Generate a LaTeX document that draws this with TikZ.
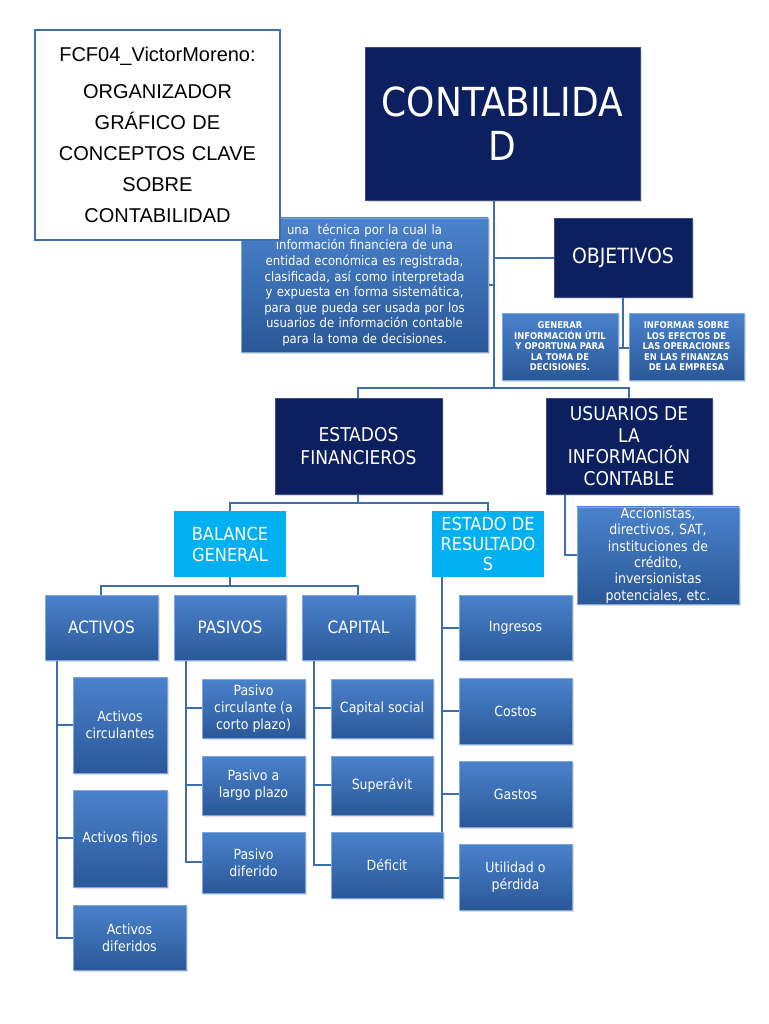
\documentclass[tikz,border=0pt]{standalone}
\usepackage{fontspec}
\setmainfont{DejaVu Sans Condensed}
\newfontfamily\arialfont{Liberation Sans}
\usetikzlibrary{positioning,shadows}
\definecolor{navy}{HTML}{0C1F5E}
\definecolor{midblue}{HTML}{3B6DB5}
\definecolor{topblue}{HTML}{4A82CC}
\definecolor{botblue}{HTML}{2A5898}
\definecolor{skyblue}{HTML}{00B0F0}
\definecolor{linkblue}{HTML}{3F6EAE}
\begin{document}
\begin{tikzpicture}[x=1pt,y=-1pt,
	navybox/.style={
		rectangle,
		fill=navy,
		draw=navy!80!white,
		text=white,
		align=center,
		inner sep=2pt,
		drop shadow={opacity=0.25,shadow xshift=2pt,shadow yshift=-2pt}},
	bluebox/.style={
		rectangle,
		top color=topblue,
		bottom color=botblue,
		draw=topblue!70!white,
		text=white,
		align=center,
		inner sep=1pt,
		drop shadow={opacity=0.25,shadow xshift=2pt,shadow yshift=-2pt}},
	skybox/.style={
		rectangle,
		fill=skyblue,
		text=white,
		align=center,
		inner sep=1pt},
	link/.style={draw=linkblue,line width=2.4pt}
	]
	\useasboundingbox[fill=white] (0,0) rectangle (768,1024);

	% connectors first, boxes on top
	\coordinate (t0) at (494,200);
	\coordinate (t1) at (494,388);
	\coordinate (ob1) at (623,297);
	\draw[link] (t0) -- (t1);
	\draw[link] (494,258) -- (554,258);
	\draw[link] (488,285) -- (494,285);
	\draw[link] (ob1) |- (618,348);
	\draw[link] (623,348) -- (629,348);
	\draw[link] (358,398) -- (358,388) -- (629,388) -- (629,398);
	\draw[link] (565,494) |- (577,555);
	\draw[link] (358,494) -- (358,503);
	\draw[link] (230,511) |- (488,503) -- (488,511);
	\draw[link] (230,577) -- (230,586);
	\draw[link] (101,595) |- (358,586) -- (358,595);
	% ramas de activos, pasivos, capital
	\draw[link] (57,660) |- (73,938);
	\foreach \y in {725,838} \draw[link] (57,\y) -- (73,\y);
	\draw[link] (186,660) |- (202,862);
	\foreach \y in {708,785} \draw[link] (186,\y) -- (202,\y);
	\draw[link] (314,660) |- (331,865);
	\foreach \y in {708,785} \draw[link] (314,\y) -- (331,\y);
	\draw[link] (442,577) |- (459,878);
	\foreach \y in {628,711,794} \draw[link] (442,\y) -- (459,\y);

	% cajas
	\node[navybox,minimum width=275pt,minimum height=153pt,font=\fontsize{40}{44}\selectfont] (conta) at (502.5,123.5) {CONTABILIDA\\D};
	\node[bluebox,minimum width=247pt,minimum height=134pt,text width=243pt,font=\fontsize{13}{15.6}\selectfont] (defi) at (364.5,285) {una \ técnica por la cual la\\información financiera de una\\entidad económica es registrada,\\clasificada, así como interpretada\\y expuesta en forma sistemática,\\para que pueda ser usada por los\\usuarios de información contable\\para la toma de decisiones.};
	\node[draw=linkblue,line width=2pt,fill=white,minimum width=245pt,minimum height=210pt,text width=235pt,align=center,font=\arialfont\fontsize{20}{31}\selectfont] (titulo) at (157.5,135) {FCF04\_VictorMoreno:\\[6pt] ORGANIZADOR\\GRÁFICO DE\\CONCEPTOS CLAVE\\SOBRE\\CONTABILIDAD};
	\node[navybox,minimum width=138pt,minimum height=79pt,font=\fontsize{21}{24}\selectfont] (objet) at (623,257.5) {OBJETIVOS};
	\node[bluebox,minimum width=116pt,minimum height=67pt,text width=114pt,font=\bfseries\fontsize{9.3}{10.5}\selectfont] (gener) at (560,346.5) {GENERAR\\INFORMACIÓN ÚTIL\\Y OPORTUNA PARA\\LA TOMA DE\\DECISIONES.};
	\node[bluebox,minimum width=115pt,minimum height=67pt,text width=113pt,font=\bfseries\fontsize{9.3}{10.5}\selectfont] (infor) at (686.5,346.5) {INFORMAR SOBRE\\LOS EFECTOS DE\\LAS OPERACIONES\\EN LAS FINANZAS\\DE LA EMPRESA};
	\node[navybox,minimum width=167pt,minimum height=96pt,font=\fontsize{19}{22.5}\selectfont] (estfin) at (358.5,446) {ESTADOS\\FINANCIEROS};
	\node[navybox,minimum width=166pt,minimum height=96pt,font=\fontsize{19}{21.5}\selectfont] (usua) at (629,446) {USUARIOS DE\\LA\\INFORMACIÓN\\CONTABLE};
	\node[bluebox,minimum width=162pt,minimum height=89pt,text width=158pt,font=\fontsize{14}{16.3}\selectfont] (accio) at (658,555.5) {Accionistas,\\directivos, SAT,\\instituciones de\\crédito,\\inversionistas\\potenciales, etc.};
	\node[skybox,minimum width=112pt,minimum height=66pt,font=\fontsize{18}{21}\selectfont] (balan) at (230,544) {BALANCE\\GENERAL};
	\node[skybox,minimum width=112pt,minimum height=66pt,font=\fontsize{18}{20}\selectfont] (estres) at (488,544) {ESTADO DE\\RESULTADO\\S};
	\node[bluebox,minimum width=113pt,minimum height=65pt,font=\fontsize{17}{20}\selectfont] (activ) at (101.5,627.5) {ACTIVOS};
	\node[bluebox,minimum width=112pt,minimum height=65pt,font=\fontsize{17}{20}\selectfont] (pasiv) at (230,627.5) {PASIVOS};
	\node[bluebox,minimum width=113pt,minimum height=65pt,font=\fontsize{17}{20}\selectfont] (capit) at (358.5,627.5) {CAPITAL};
	\tikzset{child/.style={bluebox,font=\fontsize{14}{17}\selectfont}}
	\node[child,minimum width=94pt,minimum height=96pt] (acirc) at (120,725) {Activos\\circulantes};
	\node[child,minimum width=94pt,minimum height=97pt] (afijo) at (120,838.5) {Activos fijos};
	\node[child,minimum width=113pt,minimum height=65pt] (adife) at (129.5,937.5) {Activos\\diferidos};
	\node[child,minimum width=103pt,minimum height=59pt] (pcirc) at (253.5,708.5) {Pasivo\\circulante (a\\corto plazo)};
	\node[child,minimum width=103pt,minimum height=59pt] (plarg) at (253.5,785.5) {Pasivo a\\largo plazo};
	\node[child,minimum width=103pt,minimum height=61pt] (pdife) at (253.5,862.5) {Pasivo\\diferido};
	\node[child,minimum width=102pt,minimum height=59pt] (csoci) at (382,708.5) {Capital social};
	\node[child,minimum width=102pt,minimum height=59pt] (super) at (382,785.5) {Superávit};
	\node[child,minimum width=112pt,minimum height=66pt] (defic) at (387,865) {Déficit};
	\node[child,minimum width=113pt,minimum height=65pt] (ingre) at (515.5,627.5) {Ingresos};
	\node[child,minimum width=113pt,minimum height=66pt] (costo) at (515.5,711) {Costos};
	\node[child,minimum width=113pt,minimum height=66pt] (gasto) at (515.5,794) {Gastos};
	\node[child,minimum width=113pt,minimum height=66pt] (utili) at (515.5,877) {Utilidad o\\pérdida};
\end{tikzpicture}
\end{document}
